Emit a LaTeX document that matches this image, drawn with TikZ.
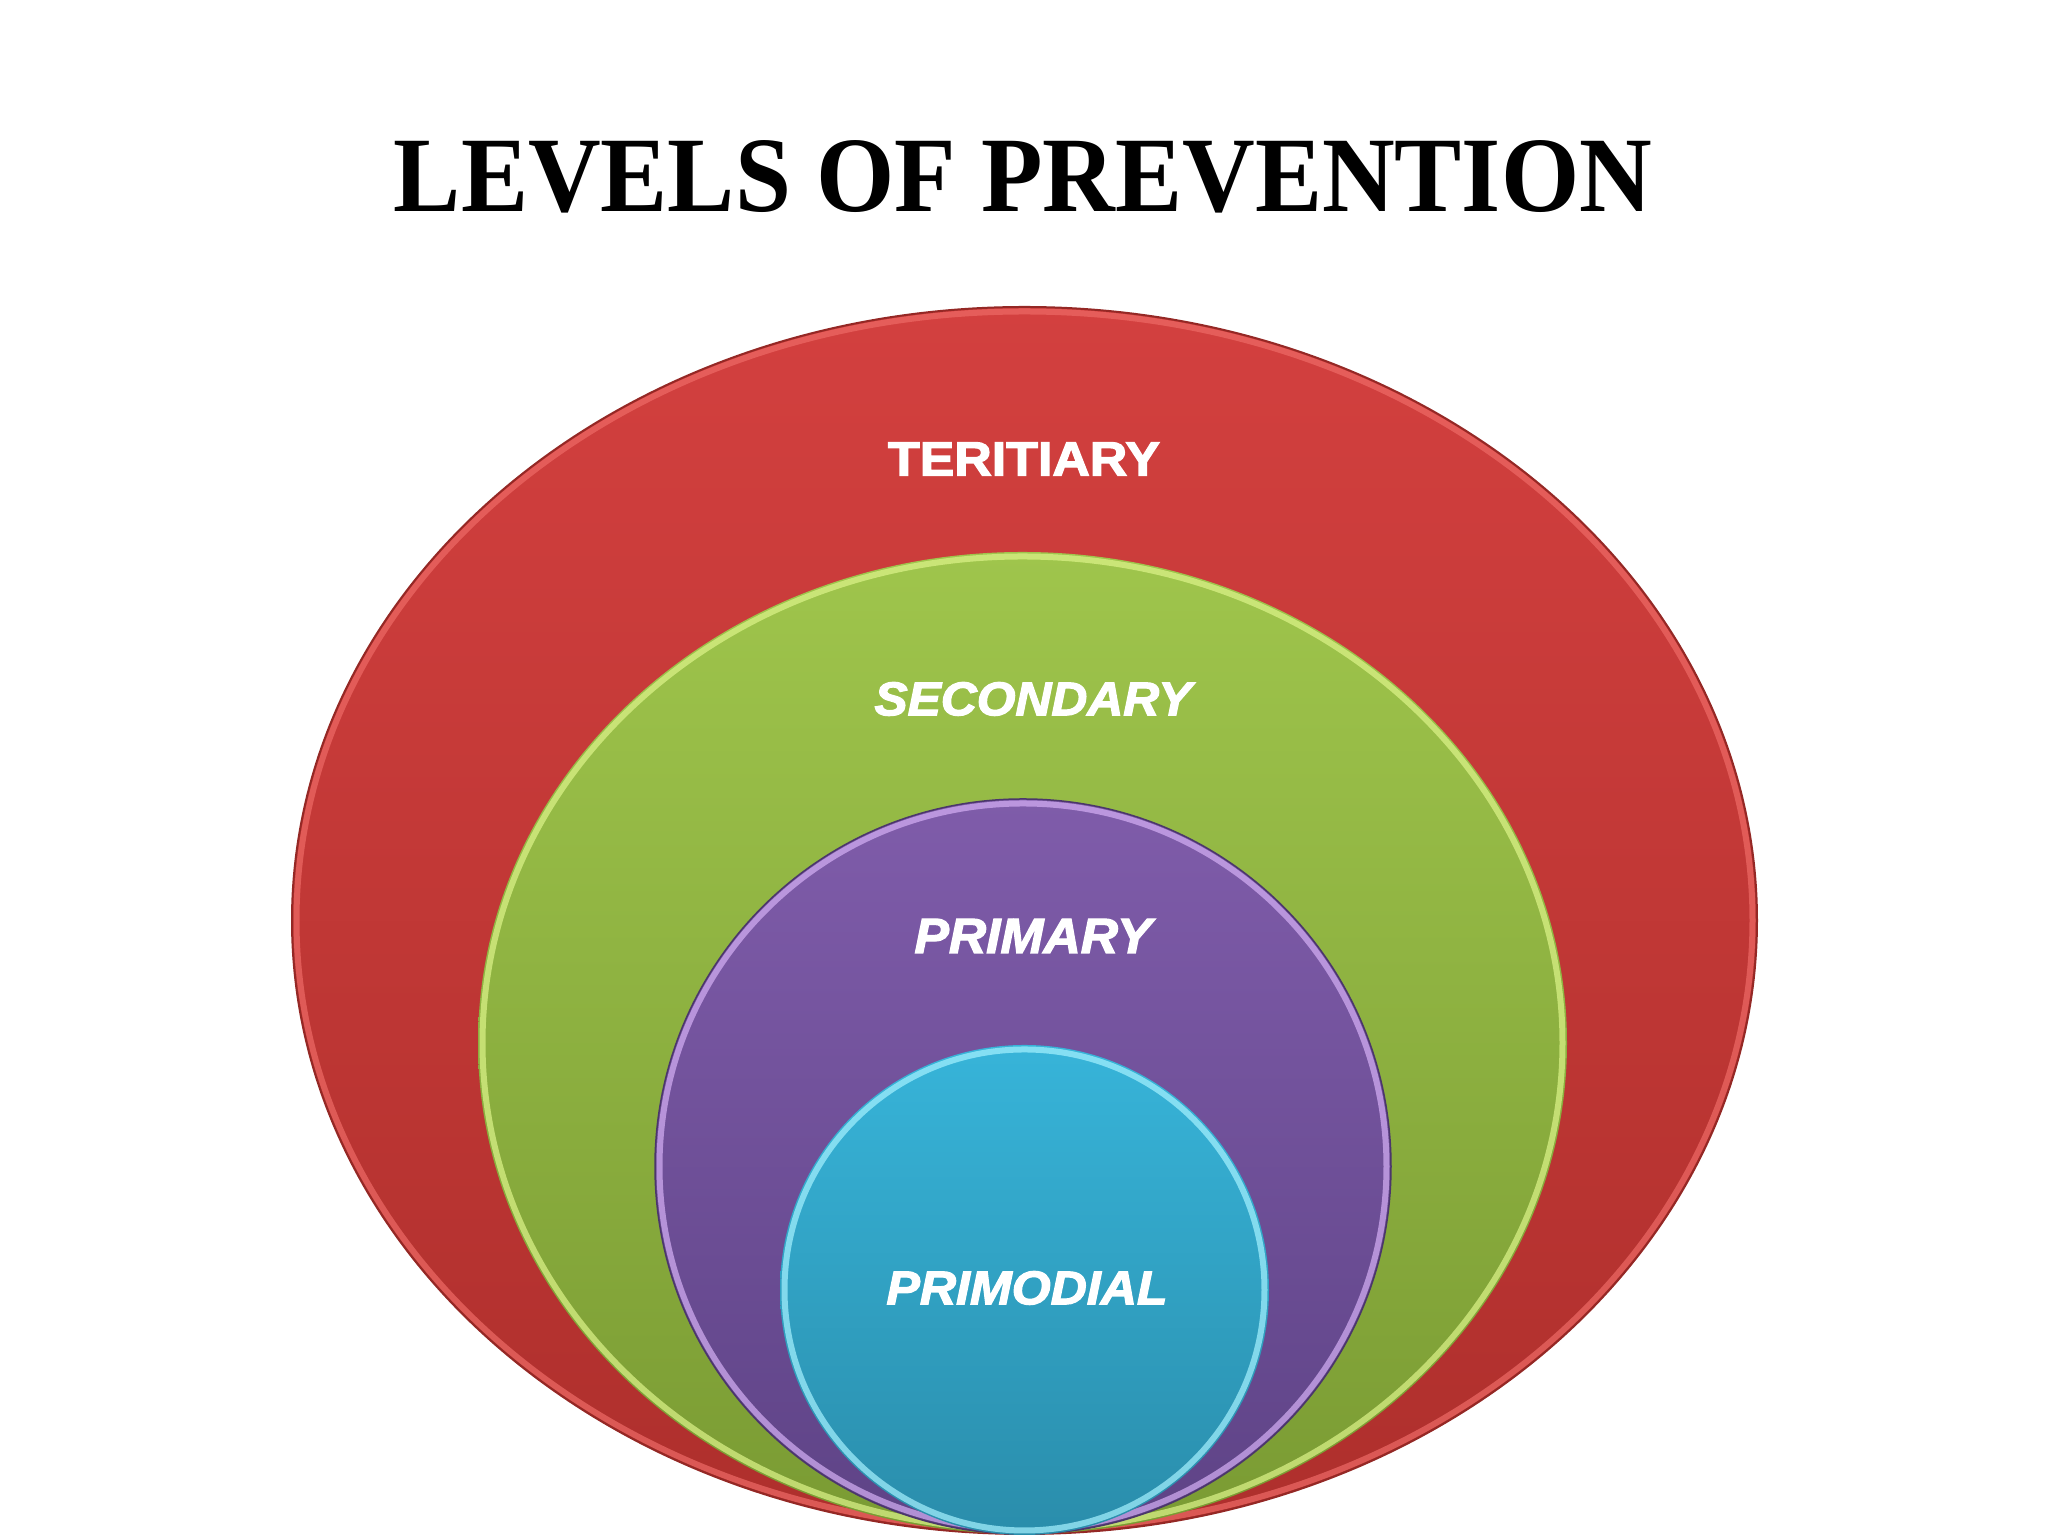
\documentclass[tikz,border=0pt]{standalone}
\usepackage{fontspec}
\setmainfont{Liberation Serif}
\setsansfont{Liberation Sans}
\newfontfamily\lblfont{Liberation Sans}[FakeBold=2.5]
\usepackage{graphicx}

\definecolor{redtop}{HTML}{D3403F}
\definecolor{redbot}{HTML}{AE2F2C}
\definecolor{redrim}{HTML}{EE6A66}
\definecolor{greentop}{HTML}{9FC54C}
\definecolor{greenbot}{HTML}{7A9B33}
\definecolor{greenrim}{HTML}{DDF48A}
\definecolor{purpletop}{HTML}{7F5CAA}
\definecolor{purplebot}{HTML}{5E4386}
\definecolor{purplerim}{HTML}{D5B0F5}
\definecolor{cyantop}{HTML}{37B4D9}
\definecolor{cyanbot}{HTML}{2A8DAB}
\definecolor{cyanrim}{HTML}{A6F2FF}

\begin{document}
\begin{tikzpicture}[
  lbl/.style={text=white, inner sep=0pt, font=\lblfont\bfseries},
  rim/.style={line width=0.6mm, opacity=0.7}]
\useasboundingbox (0,0) rectangle (20.48,15.36);

% tertiary
\shade[top color=redtop, bottom color=redbot] (10.245,6.155) ellipse [x radius=7.325, y radius=6.135];
\draw[rim, redrim] (10.245,6.155) ellipse [x radius=7.28, y radius=6.09];
\draw[redbot!85!black, line width=0.2mm] (10.245,6.155) ellipse [x radius=7.325, y radius=6.135];

% secondary
\shade[top color=greentop, bottom color=greenbot] (10.225,4.93) ellipse [x radius=5.445, y radius=4.91];
\draw[rim, greenrim] (10.225,4.93) ellipse [x radius=5.40, y radius=4.865];

% primary
\shade[top color=purpletop, bottom color=purplebot] (10.23,3.695) ellipse [x radius=3.68, y radius=3.675];
\draw[rim, purplerim] (10.23,3.695) ellipse [x radius=3.635, y radius=3.63];
\draw[purplebot!80!black, line width=0.15mm] (10.23,3.695) ellipse [x radius=3.68, y radius=3.675];

% primodial
\shade[top color=cyantop, bottom color=cyanbot] (10.245,2.46) ellipse [x radius=2.445, y radius=2.45];
\draw[rim, cyanrim] (10.245,2.46) ellipse [x radius=2.40, y radius=2.405];

\node[inner sep=0pt, font=\bfseries] (title) at (10.23,13.595)
  {\resizebox{12.58cm}{0.71cm}{LEVELS OF PREVENTION}};
\node[lbl] (tertiary) at (10.24,10.77) {\resizebox{2.72cm}{0.33cm}{TERITIARY}};
\node[lbl] (secondary) at (10.33,8.37) {\resizebox{3.17cm}{0.33cm}{\itshape SECONDARY}};
\node[lbl] (primary) at (10.33,6.00) {\resizebox{2.37cm}{0.34cm}{\itshape PRIMARY}};
\node[lbl] (primodial) at (10.27,2.48) {\resizebox{2.81cm}{0.33cm}{\itshape PRIMODIAL}};
\end{tikzpicture}
\end{document}
